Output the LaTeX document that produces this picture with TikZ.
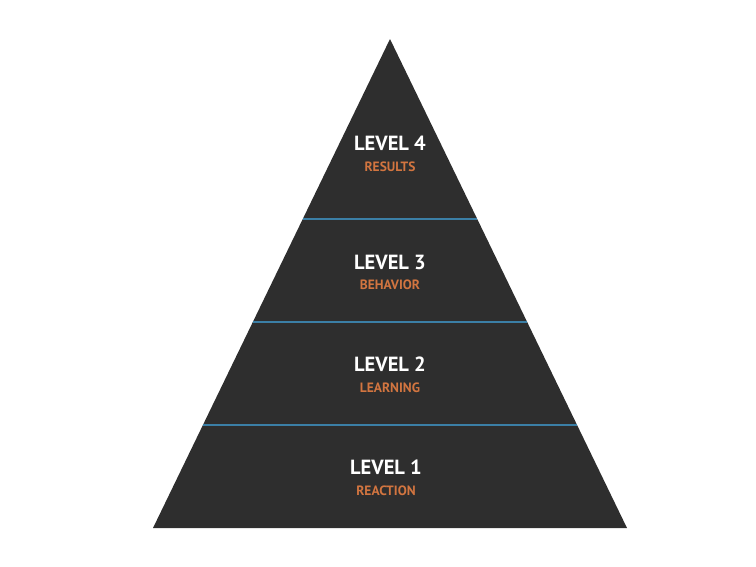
\documentclass[tikz,border=0pt]{standalone}
\usepackage{fontspec}
\setmainfont{PT Sans}
\usetikzlibrary{calc}
\definecolor{pyrgray}{HTML}{2E2E2E}
\definecolor{pyrblue}{HTML}{3B7FA6}
\definecolor{pyrorange}{HTML}{D27540}

\begin{document}
\begin{tikzpicture}[x=1pt,y=-1pt,
        level/.style={text=white,font=\bfseries\fontsize{20.5}{20.5}\selectfont},
        sublevel/.style={text=pyrorange,font=\bfseries\fontsize{13.5}{13.5}\selectfont},
        divider/.style={draw=pyrblue,line width=1.2pt}]
        \useasboundingbox (0,0) rectangle (756,566);
        \coordinate (top) at (390,39);
        \coordinate (bl) at (153,528);
        \coordinate (br) at (627,528);
        \fill[pyrgray] (top) -- (br) -- (bl) -- cycle;
        \foreach \t [count=\i] in {0.368,0.5787,0.7894}{
            \coordinate (l\i) at ($(top)!\t!(bl)$);
            \coordinate (r\i) at ($(top)!\t!(br)$);
        }
        \path
            (l1) edge[divider] (r1)
            (l2) edge[divider] (r2)
            (l3) edge[divider] (r3);
        \node[level] (lv4) at (390,143) {LEVEL 4};
        \node[sublevel] (results) at (390,167) {RESULTS};
        \node[level] (lv3) at (390,262) {LEVEL 3};
        \node[sublevel] (behavior) at (390,285) {BEHAVIOR};
        \node[level] (lv2) at (390,364) {LEVEL 2};
        \node[sublevel] (learning) at (390,388) {LEARNING};
        \node[level] (lv1) at (386,467) {LEVEL 1};
        \node[sublevel] (reaction) at (386,491) {REACTION};
    \end{tikzpicture}
\end{document}
